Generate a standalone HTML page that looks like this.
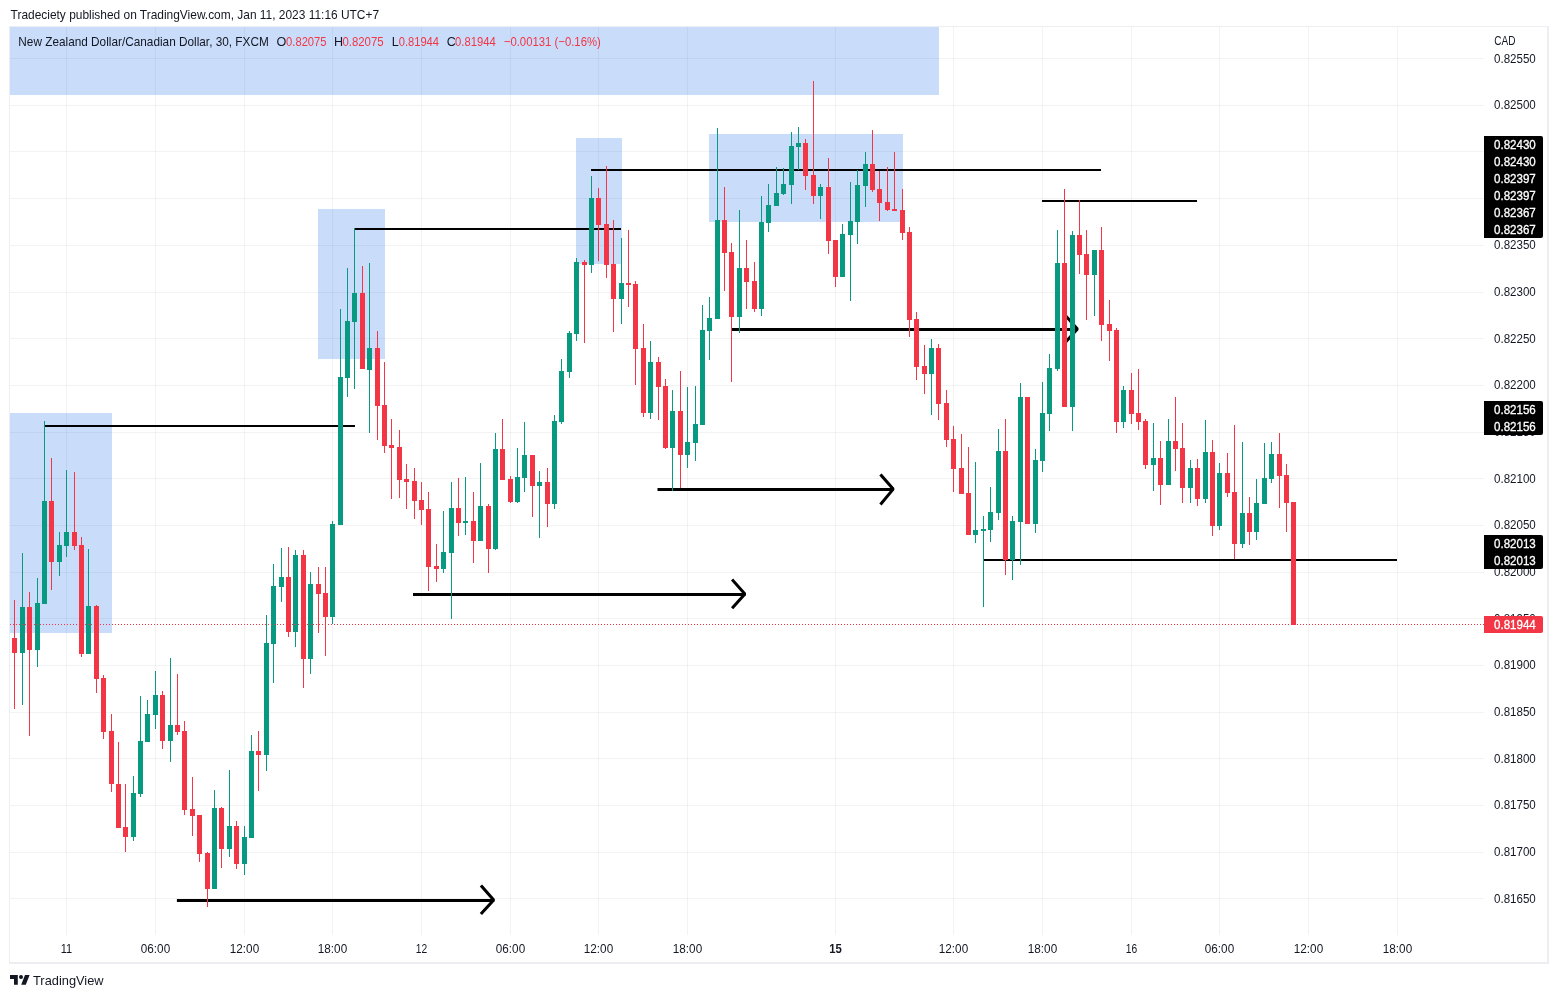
<!DOCTYPE html><html><head><meta charset="utf-8"><title>NZDCAD chart</title><style>html,body{margin:0;padding:0;background:#fff;width:1558px;height:998px;overflow:hidden}svg{display:block;will-change:transform}text{font-family:'Liberation Sans', Arial, sans-serif}</style></head><body>
<svg width="1558" height="998" viewBox="0 0 1558 998" shape-rendering="crispEdges">
<rect x="0" y="0" width="1558" height="998" fill="#fff"/>
<text x="10.6" y="19.3" font-size="12.6" fill="#131722" textLength="368.5" lengthAdjust="spacingAndGlyphs">Tradeciety published on TradingView.com, Jan 11, 2023 11:16 UTC+7</text>
<rect x="9" y="26" width="1540" height="1" fill="#edeef2"/>
<rect x="9" y="26" width="1" height="938" fill="#edeef2"/>
<rect x="1547" y="26" width="2" height="938" fill="#edeef2"/>
<rect x="9" y="962" width="1540" height="2" fill="#edeef2"/>
<rect x="10" y="58" width="1474" height="1" fill="rgba(42,46,57,0.06)"/>
<rect x="10" y="105" width="1474" height="1" fill="rgba(42,46,57,0.06)"/>
<rect x="10" y="151" width="1474" height="1" fill="rgba(42,46,57,0.06)"/>
<rect x="10" y="198" width="1474" height="1" fill="rgba(42,46,57,0.06)"/>
<rect x="10" y="245" width="1474" height="1" fill="rgba(42,46,57,0.06)"/>
<rect x="10" y="292" width="1474" height="1" fill="rgba(42,46,57,0.06)"/>
<rect x="10" y="338" width="1474" height="1" fill="rgba(42,46,57,0.06)"/>
<rect x="10" y="385" width="1474" height="1" fill="rgba(42,46,57,0.06)"/>
<rect x="10" y="432" width="1474" height="1" fill="rgba(42,46,57,0.06)"/>
<rect x="10" y="478" width="1474" height="1" fill="rgba(42,46,57,0.06)"/>
<rect x="10" y="525" width="1474" height="1" fill="rgba(42,46,57,0.06)"/>
<rect x="10" y="572" width="1474" height="1" fill="rgba(42,46,57,0.06)"/>
<rect x="10" y="618" width="1474" height="1" fill="rgba(42,46,57,0.06)"/>
<rect x="10" y="665" width="1474" height="1" fill="rgba(42,46,57,0.06)"/>
<rect x="10" y="712" width="1474" height="1" fill="rgba(42,46,57,0.06)"/>
<rect x="10" y="758" width="1474" height="1" fill="rgba(42,46,57,0.06)"/>
<rect x="10" y="805" width="1474" height="1" fill="rgba(42,46,57,0.06)"/>
<rect x="10" y="852" width="1474" height="1" fill="rgba(42,46,57,0.06)"/>
<rect x="10" y="898" width="1474" height="1" fill="rgba(42,46,57,0.06)"/>
<rect x="66" y="27" width="1" height="908" fill="rgba(42,46,57,0.06)"/>
<rect x="155" y="27" width="1" height="908" fill="rgba(42,46,57,0.06)"/>
<rect x="244" y="27" width="1" height="908" fill="rgba(42,46,57,0.06)"/>
<rect x="332" y="27" width="1" height="908" fill="rgba(42,46,57,0.06)"/>
<rect x="421" y="27" width="1" height="908" fill="rgba(42,46,57,0.06)"/>
<rect x="510" y="27" width="1" height="908" fill="rgba(42,46,57,0.06)"/>
<rect x="598" y="27" width="1" height="908" fill="rgba(42,46,57,0.06)"/>
<rect x="687" y="27" width="1" height="908" fill="rgba(42,46,57,0.06)"/>
<rect x="835" y="27" width="1" height="908" fill="rgba(42,46,57,0.06)"/>
<rect x="953" y="27" width="1" height="908" fill="rgba(42,46,57,0.06)"/>
<rect x="1042" y="27" width="1" height="908" fill="rgba(42,46,57,0.06)"/>
<rect x="1131" y="27" width="1" height="908" fill="rgba(42,46,57,0.06)"/>
<rect x="1219" y="27" width="1" height="908" fill="rgba(42,46,57,0.06)"/>
<rect x="1308" y="27" width="1" height="908" fill="rgba(42,46,57,0.06)"/>
<rect x="1397" y="27" width="1" height="908" fill="rgba(42,46,57,0.06)"/>
<rect x="10" y="27" width="929" height="68" fill="rgba(41,115,236,0.25)"/>
<rect x="10" y="413" width="102" height="220" fill="rgba(41,115,236,0.25)"/>
<rect x="318" y="209" width="67" height="150" fill="rgba(41,115,236,0.25)"/>
<rect x="576" y="138" width="46" height="126" fill="rgba(41,115,236,0.25)"/>
<rect x="709" y="134" width="194" height="88" fill="rgba(41,115,236,0.25)"/>
<text x="18.3" y="46.2" font-size="12.6" fill="#131722" textLength="250.5" lengthAdjust="spacingAndGlyphs">New Zealand Dollar/Canadian Dollar, 30, FXCM</text>
<text x="276.6" y="46.2" font-size="12.6" fill="#131722">O</text>
<text x="286.1" y="46.2" font-size="12.6" fill="#F23645" textLength="40.4" lengthAdjust="spacingAndGlyphs">0.82075</text>
<text x="333.9" y="46.2" font-size="12.6" fill="#131722">H</text>
<text x="342.4" y="46.2" font-size="12.6" fill="#F23645" textLength="41.2" lengthAdjust="spacingAndGlyphs">0.82075</text>
<text x="391.7" y="46.2" font-size="12.6" fill="#131722">L</text>
<text x="398.7" y="46.2" font-size="12.6" fill="#F23645" textLength="40.3" lengthAdjust="spacingAndGlyphs">0.81944</text>
<text x="446.7" y="46.2" font-size="12.6" fill="#131722">C</text>
<text x="455.0" y="46.2" font-size="12.6" fill="#F23645" textLength="40.7" lengthAdjust="spacingAndGlyphs">0.81944</text>
<text x="503.8" y="46.2" font-size="12.6" fill="#F23645" textLength="97" lengthAdjust="spacingAndGlyphs">−0.00131 (−0.16%)</text>
<rect x="44" y="425" width="311" height="2" fill="#000"/>
<rect x="354" y="228" width="267" height="2" fill="#000"/>
<rect x="591" y="169" width="510" height="2" fill="#000"/>
<rect x="1042" y="200" width="155" height="2" fill="#000"/>
<rect x="983" y="559" width="414" height="2" fill="#000"/>
<g shape-rendering="geometricPrecision" stroke="#000" stroke-width="3" fill="none" stroke-linecap="square" stroke-linejoin="bevel"><line x1="178.4" y1="900.4" x2="492.7" y2="900.4"/><polyline points="481.9,886.6 493.7,899.9 481.9,913.0"/></g>
<g shape-rendering="geometricPrecision" stroke="#000" stroke-width="3" fill="none" stroke-linecap="square" stroke-linejoin="bevel"><line x1="414.5" y1="594.5" x2="743.9" y2="594.5"/><polyline points="733.1,580.7 744.9,594.0 733.1,607.1"/></g>
<g shape-rendering="geometricPrecision" stroke="#000" stroke-width="3" fill="none" stroke-linecap="square" stroke-linejoin="bevel"><line x1="659" y1="489.6" x2="892.1999999999999" y2="489.6"/><polyline points="881.4,475.6 893.1999999999999,489.1 881.4,503.40000000000003"/></g>
<g shape-rendering="geometricPrecision" stroke="#000" stroke-width="3" fill="none" stroke-linecap="square" stroke-linejoin="bevel"><line x1="733.3" y1="329.5" x2="1076.4" y2="329.5"/><polyline points="1065.6000000000001,315.7 1077.4,329.0 1065.6000000000001,342.1"/></g>
<rect x="14" y="600" width="1" height="109" fill="#F23645"/>
<rect x="12" y="638" width="5" height="15" fill="#F23645"/>
<rect x="22" y="553" width="1" height="152" fill="#089981"/>
<rect x="20" y="607" width="5" height="46" fill="#089981"/>
<rect x="29" y="592" width="1" height="144" fill="#F23645"/>
<rect x="27" y="607" width="5" height="43" fill="#F23645"/>
<rect x="37" y="578" width="1" height="89" fill="#089981"/>
<rect x="35" y="603" width="5" height="47" fill="#089981"/>
<rect x="44" y="421" width="1" height="183" fill="#089981"/>
<rect x="42" y="501" width="5" height="103" fill="#089981"/>
<rect x="51" y="458" width="1" height="132" fill="#F23645"/>
<rect x="49" y="501" width="5" height="61" fill="#F23645"/>
<rect x="59" y="532" width="1" height="44" fill="#089981"/>
<rect x="57" y="545" width="5" height="17" fill="#089981"/>
<rect x="66" y="470" width="1" height="87" fill="#089981"/>
<rect x="64" y="532" width="5" height="14" fill="#089981"/>
<rect x="74" y="472" width="1" height="78" fill="#F23645"/>
<rect x="72" y="532" width="5" height="14" fill="#F23645"/>
<rect x="81" y="537" width="1" height="120" fill="#F23645"/>
<rect x="79" y="545" width="5" height="109" fill="#F23645"/>
<rect x="88" y="549" width="1" height="105" fill="#089981"/>
<rect x="86" y="606" width="5" height="48" fill="#089981"/>
<rect x="96" y="605" width="1" height="88" fill="#F23645"/>
<rect x="94" y="606" width="5" height="73" fill="#F23645"/>
<rect x="103" y="675" width="1" height="64" fill="#F23645"/>
<rect x="101" y="678" width="5" height="54" fill="#F23645"/>
<rect x="111" y="714" width="1" height="78" fill="#F23645"/>
<rect x="109" y="731" width="5" height="53" fill="#F23645"/>
<rect x="118" y="742" width="1" height="86" fill="#F23645"/>
<rect x="116" y="784" width="5" height="44" fill="#F23645"/>
<rect x="125" y="784" width="1" height="68" fill="#F23645"/>
<rect x="123" y="827" width="5" height="10" fill="#F23645"/>
<rect x="133" y="776" width="1" height="65" fill="#089981"/>
<rect x="131" y="793" width="5" height="44" fill="#089981"/>
<rect x="140" y="696" width="1" height="101" fill="#089981"/>
<rect x="138" y="741" width="5" height="53" fill="#089981"/>
<rect x="147" y="700" width="1" height="42" fill="#089981"/>
<rect x="145" y="714" width="5" height="28" fill="#089981"/>
<rect x="155" y="671" width="1" height="58" fill="#089981"/>
<rect x="153" y="695" width="5" height="20" fill="#089981"/>
<rect x="162" y="691" width="1" height="58" fill="#F23645"/>
<rect x="160" y="695" width="5" height="46" fill="#F23645"/>
<rect x="170" y="658" width="1" height="104" fill="#089981"/>
<rect x="168" y="725" width="5" height="16" fill="#089981"/>
<rect x="177" y="674" width="1" height="61" fill="#F23645"/>
<rect x="175" y="725" width="5" height="7" fill="#F23645"/>
<rect x="184" y="721" width="1" height="94" fill="#F23645"/>
<rect x="182" y="731" width="5" height="79" fill="#F23645"/>
<rect x="192" y="777" width="1" height="59" fill="#F23645"/>
<rect x="190" y="809" width="5" height="7" fill="#F23645"/>
<rect x="199" y="815" width="1" height="47" fill="#F23645"/>
<rect x="197" y="815" width="5" height="39" fill="#F23645"/>
<rect x="207" y="852" width="1" height="55" fill="#F23645"/>
<rect x="205" y="853" width="5" height="36" fill="#F23645"/>
<rect x="214" y="790" width="1" height="99" fill="#089981"/>
<rect x="212" y="808" width="5" height="81" fill="#089981"/>
<rect x="221" y="807" width="1" height="61" fill="#F23645"/>
<rect x="219" y="808" width="5" height="41" fill="#F23645"/>
<rect x="229" y="770" width="1" height="87" fill="#089981"/>
<rect x="227" y="826" width="5" height="23" fill="#089981"/>
<rect x="236" y="821" width="1" height="48" fill="#F23645"/>
<rect x="234" y="826" width="5" height="38" fill="#F23645"/>
<rect x="244" y="826" width="1" height="49" fill="#089981"/>
<rect x="242" y="837" width="5" height="27" fill="#089981"/>
<rect x="251" y="735" width="1" height="103" fill="#089981"/>
<rect x="249" y="751" width="5" height="87" fill="#089981"/>
<rect x="258" y="731" width="1" height="60" fill="#F23645"/>
<rect x="256" y="751" width="5" height="4" fill="#F23645"/>
<rect x="266" y="615" width="1" height="156" fill="#089981"/>
<rect x="264" y="643" width="5" height="112" fill="#089981"/>
<rect x="273" y="564" width="1" height="119" fill="#089981"/>
<rect x="271" y="586" width="5" height="58" fill="#089981"/>
<rect x="281" y="548" width="1" height="54" fill="#089981"/>
<rect x="279" y="577" width="5" height="10" fill="#089981"/>
<rect x="288" y="547" width="1" height="90" fill="#F23645"/>
<rect x="286" y="577" width="5" height="55" fill="#F23645"/>
<rect x="295" y="550" width="1" height="97" fill="#089981"/>
<rect x="293" y="555" width="5" height="77" fill="#089981"/>
<rect x="303" y="550" width="1" height="138" fill="#F23645"/>
<rect x="301" y="555" width="5" height="104" fill="#F23645"/>
<rect x="310" y="572" width="1" height="102" fill="#089981"/>
<rect x="308" y="584" width="5" height="75" fill="#089981"/>
<rect x="318" y="567" width="1" height="66" fill="#F23645"/>
<rect x="316" y="584" width="5" height="10" fill="#F23645"/>
<rect x="325" y="567" width="1" height="89" fill="#F23645"/>
<rect x="323" y="593" width="5" height="24" fill="#F23645"/>
<rect x="332" y="521" width="1" height="103" fill="#089981"/>
<rect x="330" y="524" width="5" height="93" fill="#089981"/>
<rect x="340" y="309" width="1" height="216" fill="#089981"/>
<rect x="338" y="377" width="5" height="148" fill="#089981"/>
<rect x="347" y="268" width="1" height="129" fill="#089981"/>
<rect x="345" y="321" width="5" height="57" fill="#089981"/>
<rect x="354" y="228" width="1" height="161" fill="#089981"/>
<rect x="352" y="293" width="5" height="29" fill="#089981"/>
<rect x="362" y="266" width="1" height="103" fill="#F23645"/>
<rect x="360" y="293" width="5" height="76" fill="#F23645"/>
<rect x="369" y="263" width="1" height="170" fill="#089981"/>
<rect x="367" y="348" width="5" height="22" fill="#089981"/>
<rect x="377" y="331" width="1" height="109" fill="#F23645"/>
<rect x="375" y="348" width="5" height="58" fill="#F23645"/>
<rect x="384" y="362" width="1" height="91" fill="#F23645"/>
<rect x="382" y="405" width="5" height="41" fill="#F23645"/>
<rect x="391" y="419" width="1" height="80" fill="#F23645"/>
<rect x="389" y="445" width="5" height="3" fill="#F23645"/>
<rect x="399" y="430" width="1" height="68" fill="#F23645"/>
<rect x="397" y="447" width="5" height="33" fill="#F23645"/>
<rect x="406" y="464" width="1" height="45" fill="#F23645"/>
<rect x="404" y="479" width="5" height="3" fill="#F23645"/>
<rect x="414" y="468" width="1" height="51" fill="#F23645"/>
<rect x="412" y="481" width="5" height="20" fill="#F23645"/>
<rect x="421" y="482" width="1" height="43" fill="#F23645"/>
<rect x="419" y="500" width="5" height="10" fill="#F23645"/>
<rect x="428" y="492" width="1" height="99" fill="#F23645"/>
<rect x="426" y="509" width="5" height="58" fill="#F23645"/>
<rect x="436" y="544" width="1" height="38" fill="#F23645"/>
<rect x="434" y="566" width="5" height="3" fill="#F23645"/>
<rect x="443" y="511" width="1" height="62" fill="#089981"/>
<rect x="441" y="552" width="5" height="17" fill="#089981"/>
<rect x="451" y="482" width="1" height="137" fill="#089981"/>
<rect x="449" y="508" width="5" height="45" fill="#089981"/>
<rect x="458" y="478" width="1" height="58" fill="#F23645"/>
<rect x="456" y="508" width="5" height="15" fill="#F23645"/>
<rect x="465" y="477" width="1" height="58" fill="#089981"/>
<rect x="463" y="521" width="5" height="2" fill="#089981"/>
<rect x="473" y="492" width="1" height="71" fill="#F23645"/>
<rect x="471" y="521" width="5" height="20" fill="#F23645"/>
<rect x="480" y="463" width="1" height="78" fill="#089981"/>
<rect x="478" y="506" width="5" height="35" fill="#089981"/>
<rect x="488" y="504" width="1" height="69" fill="#F23645"/>
<rect x="486" y="506" width="5" height="43" fill="#F23645"/>
<rect x="495" y="433" width="1" height="117" fill="#089981"/>
<rect x="493" y="449" width="5" height="100" fill="#089981"/>
<rect x="502" y="419" width="1" height="61" fill="#F23645"/>
<rect x="500" y="449" width="5" height="31" fill="#F23645"/>
<rect x="510" y="476" width="1" height="27" fill="#F23645"/>
<rect x="508" y="479" width="5" height="23" fill="#F23645"/>
<rect x="517" y="448" width="1" height="55" fill="#089981"/>
<rect x="515" y="477" width="5" height="25" fill="#089981"/>
<rect x="524" y="422" width="1" height="70" fill="#089981"/>
<rect x="522" y="455" width="5" height="23" fill="#089981"/>
<rect x="532" y="455" width="1" height="62" fill="#F23645"/>
<rect x="530" y="455" width="5" height="31" fill="#F23645"/>
<rect x="539" y="471" width="1" height="67" fill="#089981"/>
<rect x="537" y="482" width="5" height="4" fill="#089981"/>
<rect x="547" y="468" width="1" height="59" fill="#F23645"/>
<rect x="545" y="482" width="5" height="22" fill="#F23645"/>
<rect x="554" y="415" width="1" height="94" fill="#089981"/>
<rect x="552" y="421" width="5" height="83" fill="#089981"/>
<rect x="561" y="359" width="1" height="65" fill="#089981"/>
<rect x="559" y="371" width="5" height="51" fill="#089981"/>
<rect x="569" y="331" width="1" height="47" fill="#089981"/>
<rect x="567" y="333" width="5" height="39" fill="#089981"/>
<rect x="576" y="258" width="1" height="83" fill="#089981"/>
<rect x="574" y="262" width="5" height="72" fill="#089981"/>
<rect x="584" y="260" width="1" height="83" fill="#F23645"/>
<rect x="582" y="262" width="5" height="3" fill="#F23645"/>
<rect x="591" y="176" width="1" height="97" fill="#089981"/>
<rect x="589" y="198" width="5" height="67" fill="#089981"/>
<rect x="598" y="188" width="1" height="73" fill="#F23645"/>
<rect x="596" y="198" width="5" height="27" fill="#F23645"/>
<rect x="606" y="166" width="1" height="112" fill="#F23645"/>
<rect x="604" y="224" width="5" height="41" fill="#F23645"/>
<rect x="613" y="220" width="1" height="112" fill="#F23645"/>
<rect x="611" y="264" width="5" height="35" fill="#F23645"/>
<rect x="621" y="238" width="1" height="86" fill="#089981"/>
<rect x="619" y="283" width="5" height="16" fill="#089981"/>
<rect x="628" y="230" width="1" height="77" fill="#F23645"/>
<rect x="626" y="283" width="5" height="2" fill="#F23645"/>
<rect x="635" y="281" width="1" height="104" fill="#F23645"/>
<rect x="633" y="284" width="5" height="65" fill="#F23645"/>
<rect x="643" y="324" width="1" height="93" fill="#F23645"/>
<rect x="641" y="348" width="5" height="65" fill="#F23645"/>
<rect x="650" y="341" width="1" height="78" fill="#089981"/>
<rect x="648" y="362" width="5" height="51" fill="#089981"/>
<rect x="658" y="357" width="1" height="63" fill="#F23645"/>
<rect x="656" y="362" width="5" height="25" fill="#F23645"/>
<rect x="665" y="379" width="1" height="70" fill="#F23645"/>
<rect x="663" y="386" width="5" height="62" fill="#F23645"/>
<rect x="672" y="390" width="1" height="101" fill="#089981"/>
<rect x="670" y="411" width="5" height="37" fill="#089981"/>
<rect x="680" y="371" width="1" height="117" fill="#F23645"/>
<rect x="678" y="411" width="5" height="44" fill="#F23645"/>
<rect x="687" y="387" width="1" height="81" fill="#089981"/>
<rect x="685" y="442" width="5" height="13" fill="#089981"/>
<rect x="695" y="386" width="1" height="75" fill="#089981"/>
<rect x="693" y="424" width="5" height="19" fill="#089981"/>
<rect x="702" y="305" width="1" height="120" fill="#089981"/>
<rect x="700" y="330" width="5" height="95" fill="#089981"/>
<rect x="709" y="297" width="1" height="63" fill="#089981"/>
<rect x="707" y="318" width="5" height="13" fill="#089981"/>
<rect x="717" y="128" width="1" height="191" fill="#089981"/>
<rect x="715" y="220" width="5" height="99" fill="#089981"/>
<rect x="724" y="187" width="1" height="104" fill="#F23645"/>
<rect x="722" y="220" width="5" height="33" fill="#F23645"/>
<rect x="731" y="243" width="1" height="139" fill="#F23645"/>
<rect x="729" y="252" width="5" height="65" fill="#F23645"/>
<rect x="739" y="210" width="1" height="123" fill="#089981"/>
<rect x="737" y="268" width="5" height="49" fill="#089981"/>
<rect x="746" y="240" width="1" height="69" fill="#F23645"/>
<rect x="744" y="268" width="5" height="14" fill="#F23645"/>
<rect x="754" y="262" width="1" height="50" fill="#F23645"/>
<rect x="752" y="281" width="5" height="28" fill="#F23645"/>
<rect x="761" y="196" width="1" height="120" fill="#089981"/>
<rect x="759" y="222" width="5" height="87" fill="#089981"/>
<rect x="768" y="184" width="1" height="48" fill="#089981"/>
<rect x="766" y="205" width="5" height="18" fill="#089981"/>
<rect x="776" y="167" width="1" height="39" fill="#089981"/>
<rect x="774" y="193" width="5" height="13" fill="#089981"/>
<rect x="783" y="168" width="1" height="27" fill="#089981"/>
<rect x="781" y="184" width="5" height="10" fill="#089981"/>
<rect x="791" y="132" width="1" height="72" fill="#089981"/>
<rect x="789" y="146" width="5" height="39" fill="#089981"/>
<rect x="798" y="127" width="1" height="43" fill="#089981"/>
<rect x="796" y="143" width="5" height="4" fill="#089981"/>
<rect x="805" y="139" width="1" height="51" fill="#F23645"/>
<rect x="803" y="143" width="5" height="33" fill="#F23645"/>
<rect x="813" y="81" width="1" height="123" fill="#F23645"/>
<rect x="811" y="175" width="5" height="21" fill="#F23645"/>
<rect x="820" y="184" width="1" height="35" fill="#089981"/>
<rect x="818" y="187" width="5" height="9" fill="#089981"/>
<rect x="828" y="158" width="1" height="96" fill="#F23645"/>
<rect x="826" y="187" width="5" height="54" fill="#F23645"/>
<rect x="835" y="240" width="1" height="47" fill="#F23645"/>
<rect x="833" y="240" width="5" height="37" fill="#F23645"/>
<rect x="842" y="224" width="1" height="53" fill="#089981"/>
<rect x="840" y="234" width="5" height="43" fill="#089981"/>
<rect x="850" y="182" width="1" height="119" fill="#089981"/>
<rect x="848" y="221" width="5" height="14" fill="#089981"/>
<rect x="857" y="170" width="1" height="74" fill="#089981"/>
<rect x="855" y="185" width="5" height="37" fill="#089981"/>
<rect x="865" y="152" width="1" height="55" fill="#089981"/>
<rect x="863" y="164" width="5" height="22" fill="#089981"/>
<rect x="872" y="130" width="1" height="62" fill="#F23645"/>
<rect x="870" y="164" width="5" height="26" fill="#F23645"/>
<rect x="879" y="171" width="1" height="50" fill="#F23645"/>
<rect x="877" y="189" width="5" height="14" fill="#F23645"/>
<rect x="887" y="167" width="1" height="44" fill="#F23645"/>
<rect x="885" y="202" width="5" height="8" fill="#F23645"/>
<rect x="894" y="152" width="1" height="59" fill="#F23645"/>
<rect x="892" y="209" width="5" height="2" fill="#F23645"/>
<rect x="902" y="189" width="1" height="51" fill="#F23645"/>
<rect x="900" y="210" width="5" height="23" fill="#F23645"/>
<rect x="909" y="227" width="1" height="110" fill="#F23645"/>
<rect x="907" y="232" width="5" height="88" fill="#F23645"/>
<rect x="916" y="312" width="1" height="68" fill="#F23645"/>
<rect x="914" y="319" width="5" height="48" fill="#F23645"/>
<rect x="924" y="345" width="1" height="49" fill="#F23645"/>
<rect x="922" y="366" width="5" height="8" fill="#F23645"/>
<rect x="931" y="339" width="1" height="76" fill="#089981"/>
<rect x="929" y="348" width="5" height="26" fill="#089981"/>
<rect x="938" y="344" width="1" height="76" fill="#F23645"/>
<rect x="936" y="348" width="5" height="56" fill="#F23645"/>
<rect x="946" y="390" width="1" height="57" fill="#F23645"/>
<rect x="944" y="403" width="5" height="37" fill="#F23645"/>
<rect x="953" y="426" width="1" height="66" fill="#F23645"/>
<rect x="951" y="439" width="5" height="30" fill="#F23645"/>
<rect x="961" y="434" width="1" height="60" fill="#F23645"/>
<rect x="959" y="468" width="5" height="26" fill="#F23645"/>
<rect x="968" y="447" width="1" height="88" fill="#F23645"/>
<rect x="966" y="493" width="5" height="42" fill="#F23645"/>
<rect x="975" y="462" width="1" height="81" fill="#089981"/>
<rect x="973" y="530" width="5" height="5" fill="#089981"/>
<rect x="983" y="516" width="1" height="91" fill="#089981"/>
<rect x="981" y="529" width="5" height="2" fill="#089981"/>
<rect x="990" y="487" width="1" height="55" fill="#089981"/>
<rect x="988" y="512" width="5" height="18" fill="#089981"/>
<rect x="998" y="429" width="1" height="91" fill="#089981"/>
<rect x="996" y="451" width="5" height="62" fill="#089981"/>
<rect x="1005" y="419" width="1" height="156" fill="#F23645"/>
<rect x="1003" y="451" width="5" height="109" fill="#F23645"/>
<rect x="1012" y="516" width="1" height="64" fill="#089981"/>
<rect x="1010" y="521" width="5" height="39" fill="#089981"/>
<rect x="1020" y="383" width="1" height="182" fill="#089981"/>
<rect x="1018" y="397" width="5" height="125" fill="#089981"/>
<rect x="1027" y="397" width="1" height="127" fill="#F23645"/>
<rect x="1025" y="397" width="5" height="127" fill="#F23645"/>
<rect x="1035" y="449" width="1" height="84" fill="#089981"/>
<rect x="1033" y="460" width="5" height="64" fill="#089981"/>
<rect x="1042" y="382" width="1" height="90" fill="#089981"/>
<rect x="1040" y="413" width="5" height="48" fill="#089981"/>
<rect x="1049" y="354" width="1" height="77" fill="#089981"/>
<rect x="1047" y="368" width="5" height="46" fill="#089981"/>
<rect x="1057" y="230" width="1" height="141" fill="#089981"/>
<rect x="1055" y="263" width="5" height="106" fill="#089981"/>
<rect x="1064" y="189" width="1" height="218" fill="#F23645"/>
<rect x="1062" y="263" width="5" height="144" fill="#F23645"/>
<rect x="1072" y="231" width="1" height="200" fill="#089981"/>
<rect x="1070" y="235" width="5" height="172" fill="#089981"/>
<rect x="1079" y="200" width="1" height="74" fill="#F23645"/>
<rect x="1077" y="235" width="5" height="20" fill="#F23645"/>
<rect x="1086" y="230" width="1" height="90" fill="#F23645"/>
<rect x="1084" y="254" width="5" height="21" fill="#F23645"/>
<rect x="1094" y="250" width="1" height="66" fill="#089981"/>
<rect x="1092" y="250" width="5" height="25" fill="#089981"/>
<rect x="1101" y="227" width="1" height="114" fill="#F23645"/>
<rect x="1099" y="250" width="5" height="75" fill="#F23645"/>
<rect x="1109" y="300" width="1" height="61" fill="#F23645"/>
<rect x="1107" y="324" width="5" height="7" fill="#F23645"/>
<rect x="1116" y="328" width="1" height="105" fill="#F23645"/>
<rect x="1114" y="330" width="5" height="92" fill="#F23645"/>
<rect x="1123" y="386" width="1" height="42" fill="#089981"/>
<rect x="1121" y="390" width="5" height="32" fill="#089981"/>
<rect x="1131" y="373" width="1" height="51" fill="#F23645"/>
<rect x="1129" y="390" width="5" height="24" fill="#F23645"/>
<rect x="1138" y="369" width="1" height="61" fill="#F23645"/>
<rect x="1136" y="413" width="5" height="9" fill="#F23645"/>
<rect x="1145" y="419" width="1" height="50" fill="#F23645"/>
<rect x="1143" y="421" width="5" height="44" fill="#F23645"/>
<rect x="1153" y="423" width="1" height="68" fill="#089981"/>
<rect x="1151" y="458" width="5" height="7" fill="#089981"/>
<rect x="1160" y="441" width="1" height="64" fill="#F23645"/>
<rect x="1158" y="458" width="5" height="27" fill="#F23645"/>
<rect x="1168" y="419" width="1" height="66" fill="#089981"/>
<rect x="1166" y="441" width="5" height="44" fill="#089981"/>
<rect x="1175" y="397" width="1" height="74" fill="#F23645"/>
<rect x="1173" y="441" width="5" height="8" fill="#F23645"/>
<rect x="1182" y="423" width="1" height="80" fill="#F23645"/>
<rect x="1180" y="448" width="5" height="40" fill="#F23645"/>
<rect x="1190" y="460" width="1" height="43" fill="#089981"/>
<rect x="1188" y="468" width="5" height="20" fill="#089981"/>
<rect x="1197" y="459" width="1" height="47" fill="#F23645"/>
<rect x="1195" y="468" width="5" height="31" fill="#F23645"/>
<rect x="1205" y="420" width="1" height="83" fill="#089981"/>
<rect x="1203" y="452" width="5" height="47" fill="#089981"/>
<rect x="1212" y="440" width="1" height="96" fill="#F23645"/>
<rect x="1210" y="452" width="5" height="74" fill="#F23645"/>
<rect x="1219" y="463" width="1" height="67" fill="#089981"/>
<rect x="1217" y="473" width="5" height="53" fill="#089981"/>
<rect x="1227" y="453" width="1" height="44" fill="#F23645"/>
<rect x="1225" y="473" width="5" height="20" fill="#F23645"/>
<rect x="1234" y="425" width="1" height="134" fill="#F23645"/>
<rect x="1232" y="492" width="5" height="52" fill="#F23645"/>
<rect x="1242" y="442" width="1" height="106" fill="#089981"/>
<rect x="1240" y="513" width="5" height="31" fill="#089981"/>
<rect x="1249" y="497" width="1" height="48" fill="#F23645"/>
<rect x="1247" y="513" width="5" height="19" fill="#F23645"/>
<rect x="1256" y="479" width="1" height="61" fill="#089981"/>
<rect x="1254" y="503" width="5" height="29" fill="#089981"/>
<rect x="1264" y="443" width="1" height="61" fill="#089981"/>
<rect x="1262" y="478" width="5" height="26" fill="#089981"/>
<rect x="1271" y="442" width="1" height="41" fill="#089981"/>
<rect x="1269" y="454" width="5" height="25" fill="#089981"/>
<rect x="1279" y="433" width="1" height="75" fill="#F23645"/>
<rect x="1277" y="454" width="5" height="22" fill="#F23645"/>
<rect x="1286" y="464" width="1" height="68" fill="#F23645"/>
<rect x="1284" y="475" width="5" height="28" fill="#F23645"/>
<rect x="1293" y="502" width="1" height="123" fill="#F23645"/>
<rect x="1291" y="502" width="5" height="123" fill="#F23645"/>
<line x1="10" y1="624.5" x2="1484" y2="624.5" stroke="#F23645" stroke-width="1" stroke-dasharray="1 2"/>
<g shape-rendering="geometricPrecision">
<text x="1494.3" y="44.9" font-size="12" fill="#131722" textLength="21.2" lengthAdjust="spacingAndGlyphs">CAD</text>
<text x="1494" y="62.6" font-size="12" fill="#131722" textLength="41.8" lengthAdjust="spacingAndGlyphs">0.82550</text>
<text x="1494" y="109.3" font-size="12" fill="#131722" textLength="41.8" lengthAdjust="spacingAndGlyphs">0.82500</text>
<text x="1494" y="155.9" font-size="12" fill="#131722" textLength="41.8" lengthAdjust="spacingAndGlyphs">0.82450</text>
<text x="1494" y="202.6" font-size="12" fill="#131722" textLength="41.8" lengthAdjust="spacingAndGlyphs">0.82400</text>
<text x="1494" y="249.3" font-size="12" fill="#131722" textLength="41.8" lengthAdjust="spacingAndGlyphs">0.82350</text>
<text x="1494" y="295.9" font-size="12" fill="#131722" textLength="41.8" lengthAdjust="spacingAndGlyphs">0.82300</text>
<text x="1494" y="342.6" font-size="12" fill="#131722" textLength="41.8" lengthAdjust="spacingAndGlyphs">0.82250</text>
<text x="1494" y="389.3" font-size="12" fill="#131722" textLength="41.8" lengthAdjust="spacingAndGlyphs">0.82200</text>
<text x="1494" y="435.9" font-size="12" fill="#131722" textLength="41.8" lengthAdjust="spacingAndGlyphs">0.82150</text>
<text x="1494" y="482.6" font-size="12" fill="#131722" textLength="41.8" lengthAdjust="spacingAndGlyphs">0.82100</text>
<text x="1494" y="529.3" font-size="12" fill="#131722" textLength="41.8" lengthAdjust="spacingAndGlyphs">0.82050</text>
<text x="1494" y="575.9" font-size="12" fill="#131722" textLength="41.8" lengthAdjust="spacingAndGlyphs">0.82000</text>
<text x="1494" y="622.6" font-size="12" fill="#131722" textLength="41.8" lengthAdjust="spacingAndGlyphs">0.81950</text>
<text x="1494" y="669.3" font-size="12" fill="#131722" textLength="41.8" lengthAdjust="spacingAndGlyphs">0.81900</text>
<text x="1494" y="715.9" font-size="12" fill="#131722" textLength="41.8" lengthAdjust="spacingAndGlyphs">0.81850</text>
<text x="1494" y="762.6" font-size="12" fill="#131722" textLength="41.8" lengthAdjust="spacingAndGlyphs">0.81800</text>
<text x="1494" y="809.3" font-size="12" fill="#131722" textLength="41.8" lengthAdjust="spacingAndGlyphs">0.81750</text>
<text x="1494" y="855.9" font-size="12" fill="#131722" textLength="41.8" lengthAdjust="spacingAndGlyphs">0.81700</text>
<text x="1494" y="902.6" font-size="12" fill="#131722" textLength="41.8" lengthAdjust="spacingAndGlyphs">0.81650</text>
<path d="M1484,136 H1541 Q1543,136 1543,138 V236 Q1543,238 1541,238 H1484 Z" fill="#000"/>
<text x="1494" y="149.1" font-size="12" fill="#fff" stroke="#fff" stroke-width="0.3" textLength="41.8" lengthAdjust="spacingAndGlyphs">0.82430</text>
<text x="1494" y="166.1" font-size="12" fill="#fff" stroke="#fff" stroke-width="0.3" textLength="41.8" lengthAdjust="spacingAndGlyphs">0.82430</text>
<text x="1494" y="183.1" font-size="12" fill="#fff" stroke="#fff" stroke-width="0.3" textLength="41.8" lengthAdjust="spacingAndGlyphs">0.82397</text>
<text x="1494" y="200.1" font-size="12" fill="#fff" stroke="#fff" stroke-width="0.3" textLength="41.8" lengthAdjust="spacingAndGlyphs">0.82397</text>
<text x="1494" y="217.1" font-size="12" fill="#fff" stroke="#fff" stroke-width="0.3" textLength="41.8" lengthAdjust="spacingAndGlyphs">0.82367</text>
<text x="1494" y="234.1" font-size="12" fill="#fff" stroke="#fff" stroke-width="0.3" textLength="41.8" lengthAdjust="spacingAndGlyphs">0.82367</text>
<path d="M1484,401 H1541 Q1543,401 1543,403 V433 Q1543,435 1541,435 H1484 Z" fill="#000"/>
<text x="1494" y="414.1" font-size="12" fill="#fff" stroke="#fff" stroke-width="0.3" textLength="41.8" lengthAdjust="spacingAndGlyphs">0.82156</text>
<text x="1494" y="431.1" font-size="12" fill="#fff" stroke="#fff" stroke-width="0.3" textLength="41.8" lengthAdjust="spacingAndGlyphs">0.82156</text>
<path d="M1484,535 H1541 Q1543,535 1543,537 V567 Q1543,569 1541,569 H1484 Z" fill="#000"/>
<text x="1494" y="548.1" font-size="12" fill="#fff" stroke="#fff" stroke-width="0.3" textLength="41.8" lengthAdjust="spacingAndGlyphs">0.82013</text>
<text x="1494" y="565.1" font-size="12" fill="#fff" stroke="#fff" stroke-width="0.3" textLength="41.8" lengthAdjust="spacingAndGlyphs">0.82013</text>
<path d="M1484,616 H1541 Q1543,616 1543,618 V631 Q1543,633 1541,633 H1484 Z" fill="#F23645"/>
<text x="1494" y="629.1" font-size="12" fill="#fff" stroke="#fff" stroke-width="0.3" textLength="41.8" lengthAdjust="spacingAndGlyphs">0.81944</text>
<text x="66.5" y="953" font-size="12" fill="#131722" text-anchor="middle" textLength="11.4" lengthAdjust="spacingAndGlyphs">11</text>
<text x="155.5" y="953" font-size="12" fill="#131722" text-anchor="middle" textLength="29.3" lengthAdjust="spacingAndGlyphs">06:00</text>
<text x="244.5" y="953" font-size="12" fill="#131722" text-anchor="middle" textLength="29.3" lengthAdjust="spacingAndGlyphs">12:00</text>
<text x="332.5" y="953" font-size="12" fill="#131722" text-anchor="middle" textLength="29.3" lengthAdjust="spacingAndGlyphs">18:00</text>
<text x="421.5" y="953" font-size="12" fill="#131722" text-anchor="middle" textLength="11.4" lengthAdjust="spacingAndGlyphs">12</text>
<text x="510.5" y="953" font-size="12" fill="#131722" text-anchor="middle" textLength="29.3" lengthAdjust="spacingAndGlyphs">06:00</text>
<text x="598.5" y="953" font-size="12" fill="#131722" text-anchor="middle" textLength="29.3" lengthAdjust="spacingAndGlyphs">12:00</text>
<text x="687.5" y="953" font-size="12" fill="#131722" text-anchor="middle" textLength="29.3" lengthAdjust="spacingAndGlyphs">18:00</text>
<text x="835.5" y="953" font-size="12" fill="#131722" text-anchor="middle" font-weight="bold" textLength="12.6" lengthAdjust="spacingAndGlyphs">15</text>
<text x="953.5" y="953" font-size="12" fill="#131722" text-anchor="middle" textLength="29.3" lengthAdjust="spacingAndGlyphs">12:00</text>
<text x="1042.5" y="953" font-size="12" fill="#131722" text-anchor="middle" textLength="29.3" lengthAdjust="spacingAndGlyphs">18:00</text>
<text x="1131.5" y="953" font-size="12" fill="#131722" text-anchor="middle" textLength="11.4" lengthAdjust="spacingAndGlyphs">16</text>
<text x="1219.5" y="953" font-size="12" fill="#131722" text-anchor="middle" textLength="29.3" lengthAdjust="spacingAndGlyphs">06:00</text>
<text x="1308.5" y="953" font-size="12" fill="#131722" text-anchor="middle" textLength="29.3" lengthAdjust="spacingAndGlyphs">12:00</text>
<text x="1397.5" y="953" font-size="12" fill="#131722" text-anchor="middle" textLength="29.3" lengthAdjust="spacingAndGlyphs">18:00</text>
<path d="M10,975 H17.8 V984.7 H14 V978.9 H10 Z" fill="#131722"/>
<circle cx="21" cy="977" r="2" fill="#131722"/>
<path d="M25,975 H29.6 L25.8,984.7 H21.2 Z" fill="#131722"/>
<text x="33" y="984.8" font-size="12.6" fill="#131722" textLength="70.6" lengthAdjust="spacingAndGlyphs">TradingView</text>
</g>
</svg></body></html>
